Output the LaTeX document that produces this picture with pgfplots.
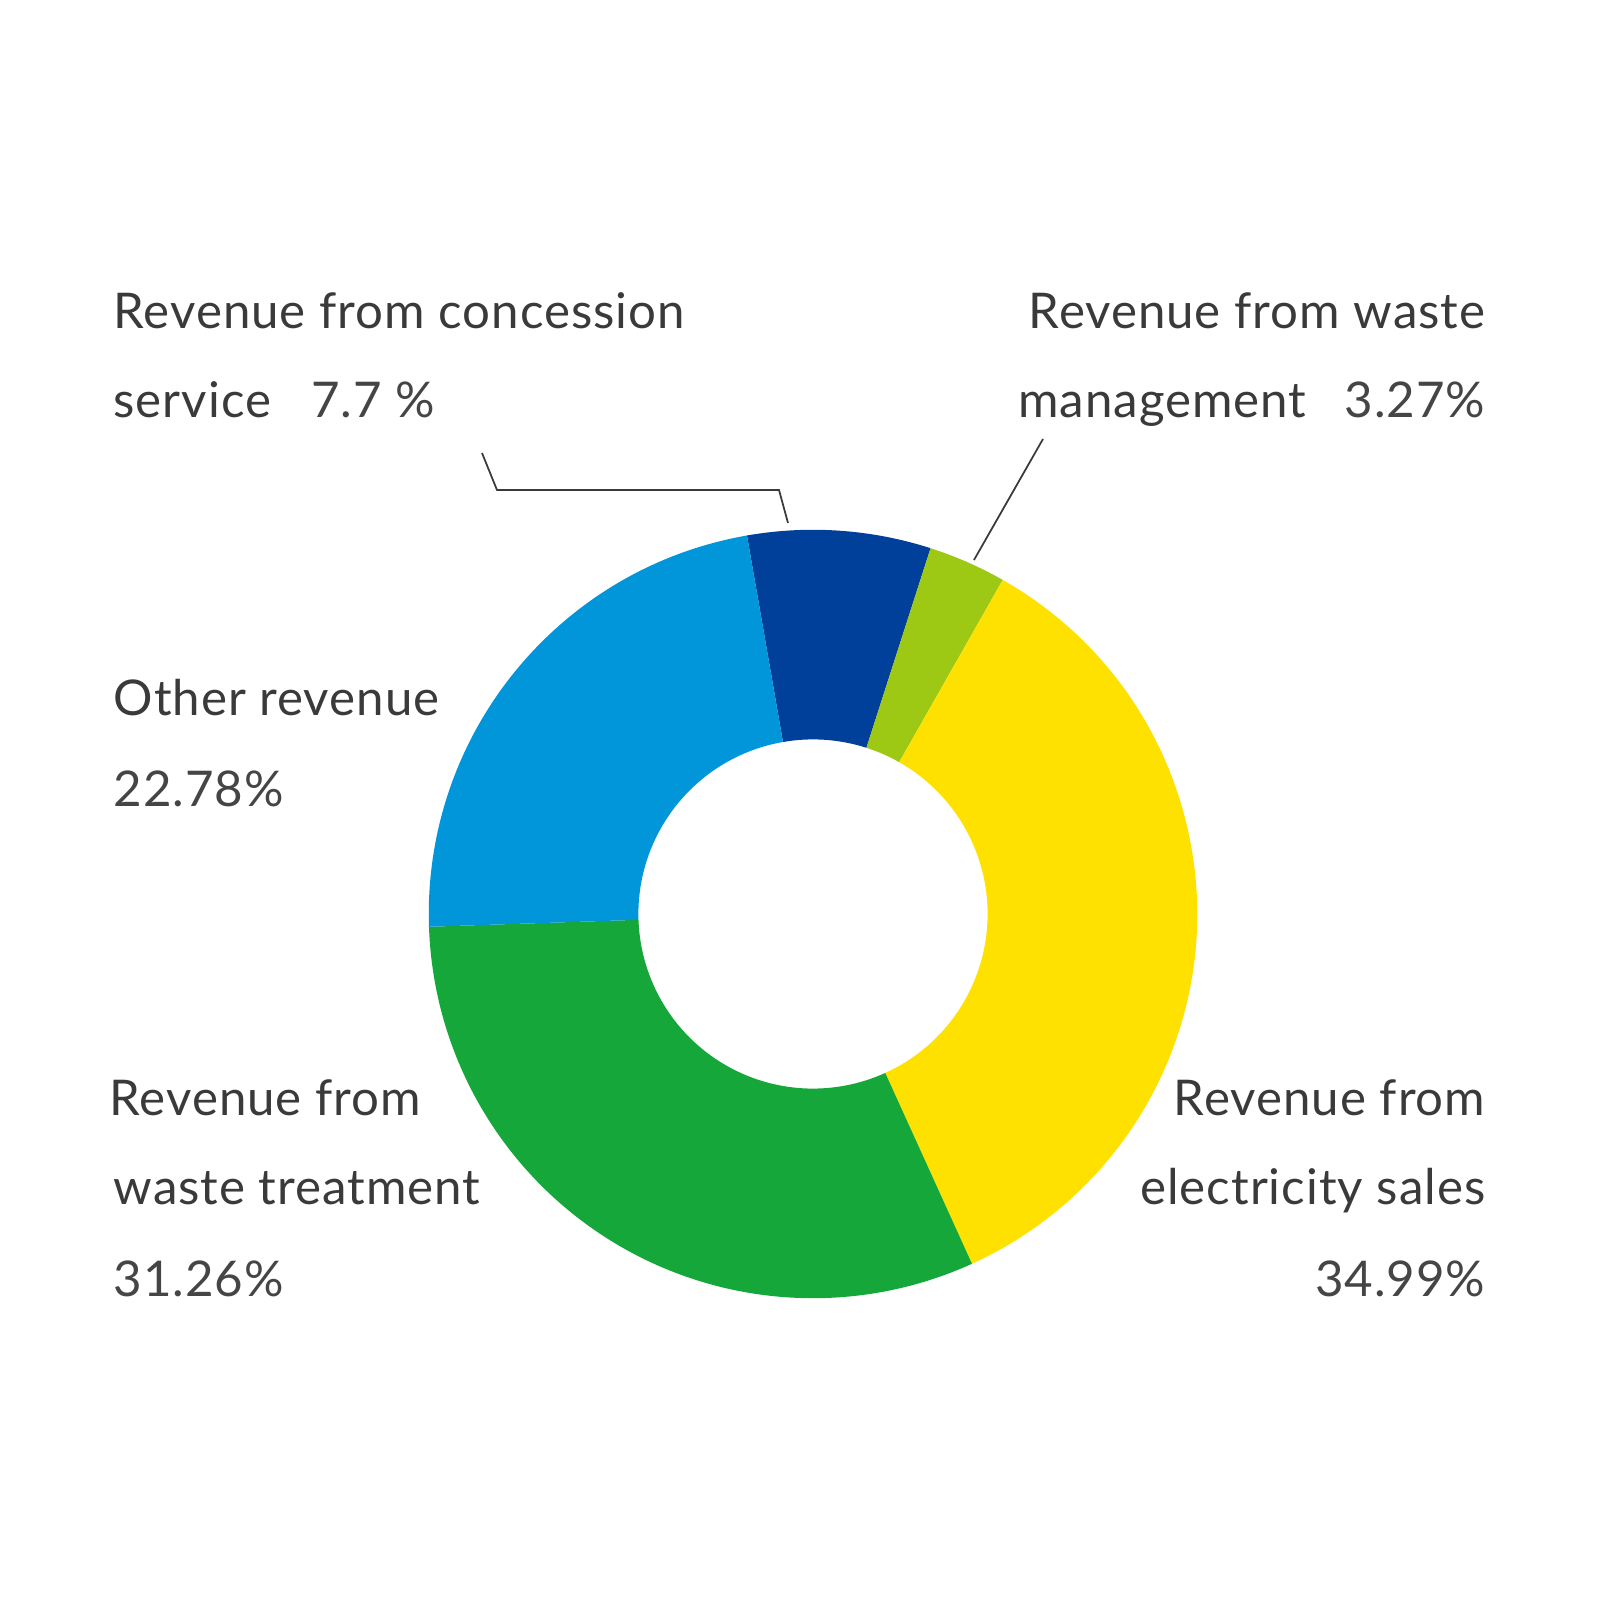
\documentclass[border=0pt]{standalone}
\usepackage{pgfplots}
\pgfplotsset{compat=1.18}
\usepackage{pgfplotstable}
\usepackage{fontspec}
\setmainfont{Lato}[LetterSpace=2.0]

\definecolor{txt}{HTML}{3A3A3A}
\definecolor{pcttxt}{HTML}{454545}
% slice colours, in table order
\definecolor{slice0}{HTML}{00409A}
\definecolor{slice1}{HTML}{9DC814}
\definecolor{slice2}{HTML}{FFE100}
\definecolor{slice3}{HTML}{16A73A}
\definecolor{slice4}{HTML}{0096D9}

% revenue shares in %, clockwise from the top
\pgfplotstableread{
share
7.70
3.27
34.99
31.26
22.78
}\revenue

\newcommand\Ro{3.84cm}
\newcommand\Ri{1.745cm}
\newcommand\lbl{\fontsize{14pt}{16pt}\selectfont}
\newcommand\pct{\color{pcttxt}}

\begin{document}
\begin{tikzpicture}
\xdef\angcur{99.9}
\foreach \i in {0,...,4}{
  \pgfplotstablegetelem{\i}{share}\of\revenue
  \pgfmathsetmacro\angnext{\angcur-3.6*\pgfplotsretval}
  \expandafter\xdef\csname sliceS\i\endcsname{\angcur}
  \expandafter\xdef\csname sliceE\i\endcsname{\angnext}
  \xdef\angcur{\angnext}
}
\begin{axis}[
    x=0.01cm, y=0.01cm,
    xmin=0, xmax=1603, ymin=0, ymax=1603,
    hide axis, clip=false,
  ]
  % keep the whole canvas
  \path (axis cs:0,0) rectangle (axis cs:1603,1603);

  \pgfplotsinvokeforeach{0,...,4}{
    \edef\temp{\noexpand\fill[slice#1, shift={(axis cs:813,689)}]
      (\csname sliceS#1\endcsname:\Ro)
      arc[start angle=\csname sliceS#1\endcsname, end angle=\csname sliceE#1\endcsname, radius=\Ro]
      -- (\csname sliceE#1\endcsname:\Ri)
      arc[start angle=\csname sliceE#1\endcsname, end angle=\csname sliceS#1\endcsname, radius=\Ri]
      -- cycle;}
    \temp
  }

  % leader lines
  \draw[txt, line width=0.5pt] (axis cs:482,1150) -- (axis cs:497,1113) -- (axis cs:779,1113) -- (axis cs:788,1080);
  \draw[txt, line width=0.5pt] (axis cs:1043,1164) -- (axis cs:974,1043);

  \begin{scope}[every node/.style={inner sep=0pt, text=txt, font=\lbl}]
    \node[anchor=base west] at (axis cs:113,1274) {Revenue from concession};
    \node[anchor=base west] at (axis cs:113,1185) {service\hspace{0.40cm}{\pct 7.7 \%}};
    \node[anchor=base east] at (axis cs:1486,1274) {Revenue from waste};
    \node[anchor=base east] at (axis cs:1486,1185) {management\hspace{0.38cm}{\pct 3.27\%}};
    \node[anchor=base west] at (axis cs:113,887) {Other revenue};
    \node[anchor=base west] at (axis cs:113,796) {\pct 22.78\%};
    \node[anchor=base west] at (axis cs:109,487) {Revenue from};
    \node[anchor=base west] at (axis cs:113,398) {waste treatment};
    \node[anchor=base west] at (axis cs:113,307) {\pct 31.26\%};
    \node[anchor=base east] at (axis cs:1486,487) {Revenue from};
    \node[anchor=base east] at (axis cs:1486,398) {electricity sales};
    \node[anchor=base east] at (axis cs:1486,307) {\pct 34.99\%};
  \end{scope}
\end{axis}
\end{tikzpicture}
\end{document}
